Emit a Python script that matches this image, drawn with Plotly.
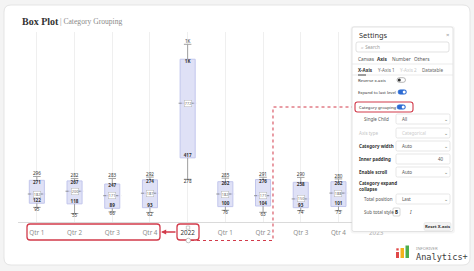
import plotly.graph_objects as go

# ---------------- data ----------------
categories = ["Qtr 1", "Qtr 2", "Qtr 3", "Qtr 4", "2022", "Qtr 1", "Qtr 2", "Qtr 3", "Qtr 4", "2023"]
box_categories = [0, 1, 2, 3, 4, 5, 6, 7, 8]          # category index of each drawn box
upper = [296, 282, 283, 292, 1155, 285, 291, 290, 280]
q3 = [271, 267, 247, 274, 1058, 262, 276, 258, 262]
median = [182, 200, 171, 187, 772, 182, 171, 150, 188]
q1 = [122, 118, 89, 93, 417, 100, 104, 93, 101]
lower = [95, 55, 66, 62, 278, 76, 63, 74, 73]


def fmt(v):
    return f"{v/1000:.0f}K" if v >= 1000 else f"{v}"


# ---------------- geometry helpers (decoration only) ----------------
W_FIG, H_FIG = 474, 271
L, T, R_M, B_M = 18, 32, 79, 49
PW = W_FIG - L - R_M
PH = H_FIG - T - B_M


def px(x):
    return (x - L) / PW


def py(y):
    return (T + PH - y) / PH


def rr(x0, y0, x1, y1, r):
    pts = [
        ("M", [(x0 + r, y0)]), ("L", [(x1 - r, y0)]), ("Q", [(x1, y0), (x1, y0 + r)]),
        ("L", [(x1, y1 - r)]), ("Q", [(x1, y1), (x1 - r, y1)]), ("L", [(x0 + r, y1)]),
        ("Q", [(x0, y1), (x0, y1 - r)]), ("L", [(x0, y0 + r)]), ("Q", [(x0, y0), (x0 + r, y0)]),
    ]
    s = ""
    for cmd, pp in pts:
        s += cmd + " ".join(f"{px(a):.5f},{py(b):.5f}" for a, b in pp) + " "
    return s + "Z"


shapes = []
annos = []


def path(p, fill=None, line="#dddddd", lw=1, layer="above", dash=None):
    shapes.append(dict(type="path", path=p, xref="paper", yref="paper", layer=layer,
                       fillcolor=fill if fill else "rgba(0,0,0,0)",
                       line=dict(color=line, width=lw, dash=dash) if lw else dict(width=0)))


def rect(x0, y0, x1, y1, r=0, fill=None, line="#dddddd", lw=1, layer="above", dash=None):
    if r:
        path(rr(x0, y0, x1, y1, r), fill, line, lw, layer, dash)
    else:
        shapes.append(dict(type="rect", xref="paper", yref="paper", layer=layer,
                           x0=px(x0), x1=px(x1), y0=py(y1), y1=py(y0),
                           fillcolor=fill if fill else "rgba(0,0,0,0)",
                           line=dict(color=line, width=lw) if lw else dict(width=0)))


def circle(cx, cy, r, fill, line="#999", lw=0.8):
    shapes.append(dict(type="circle", xref="paper", yref="paper", layer="above",
                       x0=px(cx - r), x1=px(cx + r), y0=py(cy + r), y1=py(cy - r),
                       fillcolor=fill, line=dict(color=line, width=lw) if lw else dict(width=0)))


def seg(x0, y0, x1, y1, color="#e3e3e3", lw=1, dash=None, layer="above"):
    shapes.append(dict(type="line", xref="paper", yref="paper", layer=layer,
                       x0=px(x0), x1=px(x1), y0=py(y0), y1=py(y1),
                       line=dict(color=color, width=lw, dash=dash)))


def text(x, y, s, size=5, color="#444", anchor="left", family="Noto Sans"):
    annos.append(dict(x=px(x), y=py(y), xref="paper", yref="paper", text=s, showarrow=False,
                      xanchor=anchor, yanchor="middle",
                      font=dict(size=size, color=color, family=family)))


# card
rect(4, 5, 470, 265, r=7, fill="white", line="#e4e4e4", lw=1, layer="below")

# ---------------- traces ----------------
fig = go.Figure()
xs = [box_categories[i] for i in range(len(q1))]

fig.add_trace(go.Box(
    x=xs, q1=q1, median=median, q3=q3, lowerfence=q1, upperfence=q3,
    width=0.4, whiskerwidth=0, fillcolor="#dfe1f6",
    line=dict(color="#c2c6ec", width=1), boxpoints=False,
    showlegend=False, hoverinfo="skip"))

cap = 0.1
wx, wy = [], []
for i, x in enumerate(xs):
    wx += [x, x, None, x, x, None, x - cap, x + cap, None, x - cap, x + cap, None]
    wy += [q3[i], upper[i], None, q1[i], lower[i], None, upper[i], upper[i], None, lower[i], lower[i], None]
fig.add_trace(go.Scatter(x=wx, y=wy, mode="lines", line=dict(color="#a0a0a0", width=1),
                         showlegend=False, hoverinfo="skip"))

mx, my = [], []
for i, x in enumerate(xs):
    mx += [x - 0.24, x + 0.24, None]
    my += [median[i], median[i], None]
fig.add_trace(go.Scatter(x=mx, y=my, mode="lines", line=dict(color="#808080", width=0.8, dash="dot"),
                         showlegend=False, hoverinfo="skip"))

lab_font = dict(size=4.6, color="#333", family="Noto Sans")
fig.add_trace(go.Scatter(x=xs, y=upper, mode="text", text=[fmt(v) for v in upper],
                         textposition="top center", textfont=lab_font, showlegend=False, hoverinfo="skip"))
fig.add_trace(go.Scatter(x=xs, y=lower, mode="text", text=[fmt(v) for v in lower],
                         textposition="bottom center", textfont=lab_font, showlegend=False, hoverinfo="skip"))
fig.add_trace(go.Scatter(x=xs, y=q3, mode="text", text=[f"<b>{fmt(v)}</b>" for v in q3],
                         textposition="bottom center", textfont=lab_font, showlegend=False, hoverinfo="skip"))
fig.add_trace(go.Scatter(x=xs, y=q1, mode="text", text=[f"<b>{fmt(v)}</b>" for v in q1],
                         textposition="top center", textfont=lab_font, showlegend=False, hoverinfo="skip"))

for i, x in enumerate(xs):
    annos.append(dict(x=x, y=median[i], xref="x", yref="y", text=fmt(median[i]), showarrow=False,
                      font=dict(size=3.8, color="#666", family="Noto Sans"),
                      bgcolor="white", bordercolor="#b5b5b5", borderwidth=0.5, borderpad=0.3))

# ---------------- title ----------------
text(20, 21, "<b>Box Plot</b>", size=10, color="#333", family="Liberation Serif")
text(58, 21.5, "| Category Grouping", size=7.6, color="#8a8a8a", family="Liberation Serif")

# ---------------- red callouts ----------------
RED = "#d23a4a"
rect(27, 224, 160, 240, r=3, line=RED, lw=1.3)
rect(177, 224, 199, 240, r=3, line=RED, lw=1.3)
rect(186.3, 226, 189.7, 229.2, line="#aaaaaa", lw=0.6)
annos.append(dict(x=px(161), y=py(232), xref="paper", yref="paper", ax=16, ay=0, text="",
                  showarrow=True, arrowhead=2, arrowsize=0.8, arrowwidth=1.3, arrowcolor=RED))
path(f"M{px(191):.5f},{py(240.5):.5f} L{px(273):.5f},{py(240.5):.5f} "
     f"L{px(273):.5f},{py(107):.5f} L{px(355):.5f},{py(107):.5f}", line=RED, lw=1, dash="dot")
circle(188.3, 240.5, 2.3, "white", line="#aaaaaa", lw=0.7)

# ---------------- settings panel ----------------
rect(350.5, 26, 455, 233.5, r=3, fill="rgba(0,0,0,0.04)", lw=0)
rect(352, 27, 453, 231.5, r=2, fill="white", line="#dcdcdc", lw=0.8)
text(357, 35, "Settings", size=7.4, color="#333")
text(448, 35, "×", size=6, color="#999", anchor="center")
rect(356, 42, 449, 52, r=2, line="#d4d4d4", lw=0.7)
text(359, 47, "⌕ Search", size=4.6, color="#9a9a9a")
text(356, 59, "Canvas", size=4.8, color="#555")
text(375, 59, "<b>Axis</b>", size=4.8, color="#333")
text(390, 59, "Number", size=4.8, color="#555")
text(412, 59, "Others", size=4.8, color="#555")
seg(352, 64, 453, 64, color="#e2e2e2", lw=0.7)
text(356, 70, "<b>X-Axis</b>", size=4.6, color="#333")
text(376, 70, "Y-Axis 1", size=4.6, color="#666")
text(398, 70, "Y-Axis 2", size=4.6, color="#c8c8c8")
text(420, 70, "Datatable", size=4.6, color="#666")
seg(352, 75, 453, 75, color="#e2e2e2", lw=0.7)
seg(358, 75, 366, 75, color="#444", lw=1)

BLUE = "#2c6bd3"


def toggle(x0, yc, on):
    w, h = 8.5, 4.6
    if on:
        rect(x0, yc - h / 2, x0 + w, yc + h / 2, r=h / 2, fill=BLUE, line=BLUE, lw=0.5)
        circle(x0 + w - h / 2, yc, 1.5, "white", lw=0)
    else:
        rect(x0, yc - h / 2, x0 + w, yc + h / 2, r=h / 2, fill="white", line="#888", lw=0.6)
        circle(x0 + h / 2, yc, 1.5, "#333", lw=0)


text(356, 80, "Reverse x-axis", size=4.2, color="#333")
toggle(397, 80, False)
text(356, 92, "Expand to last level", size=4.2, color="#333")
toggle(398, 92, True)
rect(355, 102, 413, 112, r=2.5, line=RED, lw=1.1)
text(357, 107, "Category grouping", size=4.2, color="#333")
toggle(397, 107, True)


def dropdown(y, val, col="#555", chev=True):
    rect(396, y - 5, 450, y + 5, r=1.5, line="#d6d6d6", lw=0.6)
    text(400, y, val, size=4.5, color=col)
    if chev:
        text(446, y, "⌄", size=5, color="#666", anchor="center")


text(362, 119, "Single Child", size=4.5, color="#555")
dropdown(119, "All")
text(357, 133, "Axis type", size=4.5, color="#c4c4c4")
dropdown(133, "Categorical", col="#cccccc")
text(357, 146, "<b>Category width</b>", size=4.5, color="#333")
dropdown(146, "Auto")
text(357, 159, "<b>Inner padding</b>", size=4.5, color="#333")
rect(396, 154, 450, 164, r=1.5, line="#d6d6d6", lw=0.6)
text(446, 159, "40", size=4.5, color="#555", anchor="right")
text(357, 172, "<b>Enable scroll</b>", size=4.5, color="#333")
dropdown(172, "Auto")
text(357, 183, "<b>Category expand</b>", size=4.5, color="#333")
text(357, 188.5, "<b>collapse</b>", size=4.5, color="#333")
text(362, 199, "Total position", size=4.5, color="#555")
dropdown(199, "Last")
text(362, 212, "Sub total style", size=4.5, color="#555")
rect(393, 208, 400, 216, r=1, line="#bbbbbb", lw=0.6)
text(396.5, 212, "<b>B</b>", size=4.6, color="#222", anchor="center")
text(410, 212, "<i>I</i>", size=4.6, color="#444", anchor="center")
rect(424, 222.5, 451, 230.5, r=1.5, fill="#f3f3f3", line="#dddddd", lw=0.5)
text(437.5, 226.5, "<b>Reset X-axis</b>", size=4.2, color="#333", anchor="center")

# ---------------- logo ----------------
rect(396, 252, 399, 258, fill="#e04848", lw=0)
rect(396.3, 248.3, 398.7, 250.5, fill="#e04848", lw=0)
rect(400.5, 248, 404, 258, fill="#f2b21c", lw=0)
rect(405.5, 245.5, 409, 258, fill="#4cae4c", lw=0)
text(414, 248.5, "INFORIVER", size=4.2, color="#9a9a9a")
text(413.5, 256.5, "Analytics+", size=8.6, color="#3c3c3c", family="DejaVu Sans Mono")

# ---------------- layout ----------------
ticktext = []
for c in categories:
    if c == "2022":
        ticktext.append("<span style='color:#333333'>2022</span>")
    elif c == "2023":
        ticktext.append("<span style='color:#b4b4b4'>2023</span>")
    else:
        ticktext.append(c)

fig.update_layout(
    width=W_FIG, height=H_FIG,
    margin=dict(l=L, r=R_M, t=T, b=B_M),
    paper_bgcolor="#f4f4f4", plot_bgcolor="rgba(0,0,0,0)",
    font=dict(family="Noto Sans", color="#888"),
    showlegend=False,
    shapes=shapes, annotations=annos,
    xaxis=dict(range=[-0.5, len(categories) - 0.5], tickmode="array",
               tickvals=list(range(len(categories))), ticktext=ticktext,
               tickfont=dict(size=6.3, color="#8c8c8c"),
               showgrid=True, gridcolor="#efefef", gridwidth=1,
               showline=True, linecolor="#dadada", linewidth=1,
               ticks="outside", ticklen=4, tickcolor="rgba(0,0,0,0)",
               zeroline=False, fixedrange=True),
    yaxis=dict(range=[0, 1235], visible=False, showgrid=False, zeroline=False, fixedrange=True),
)

fig.write_html("out.html")
